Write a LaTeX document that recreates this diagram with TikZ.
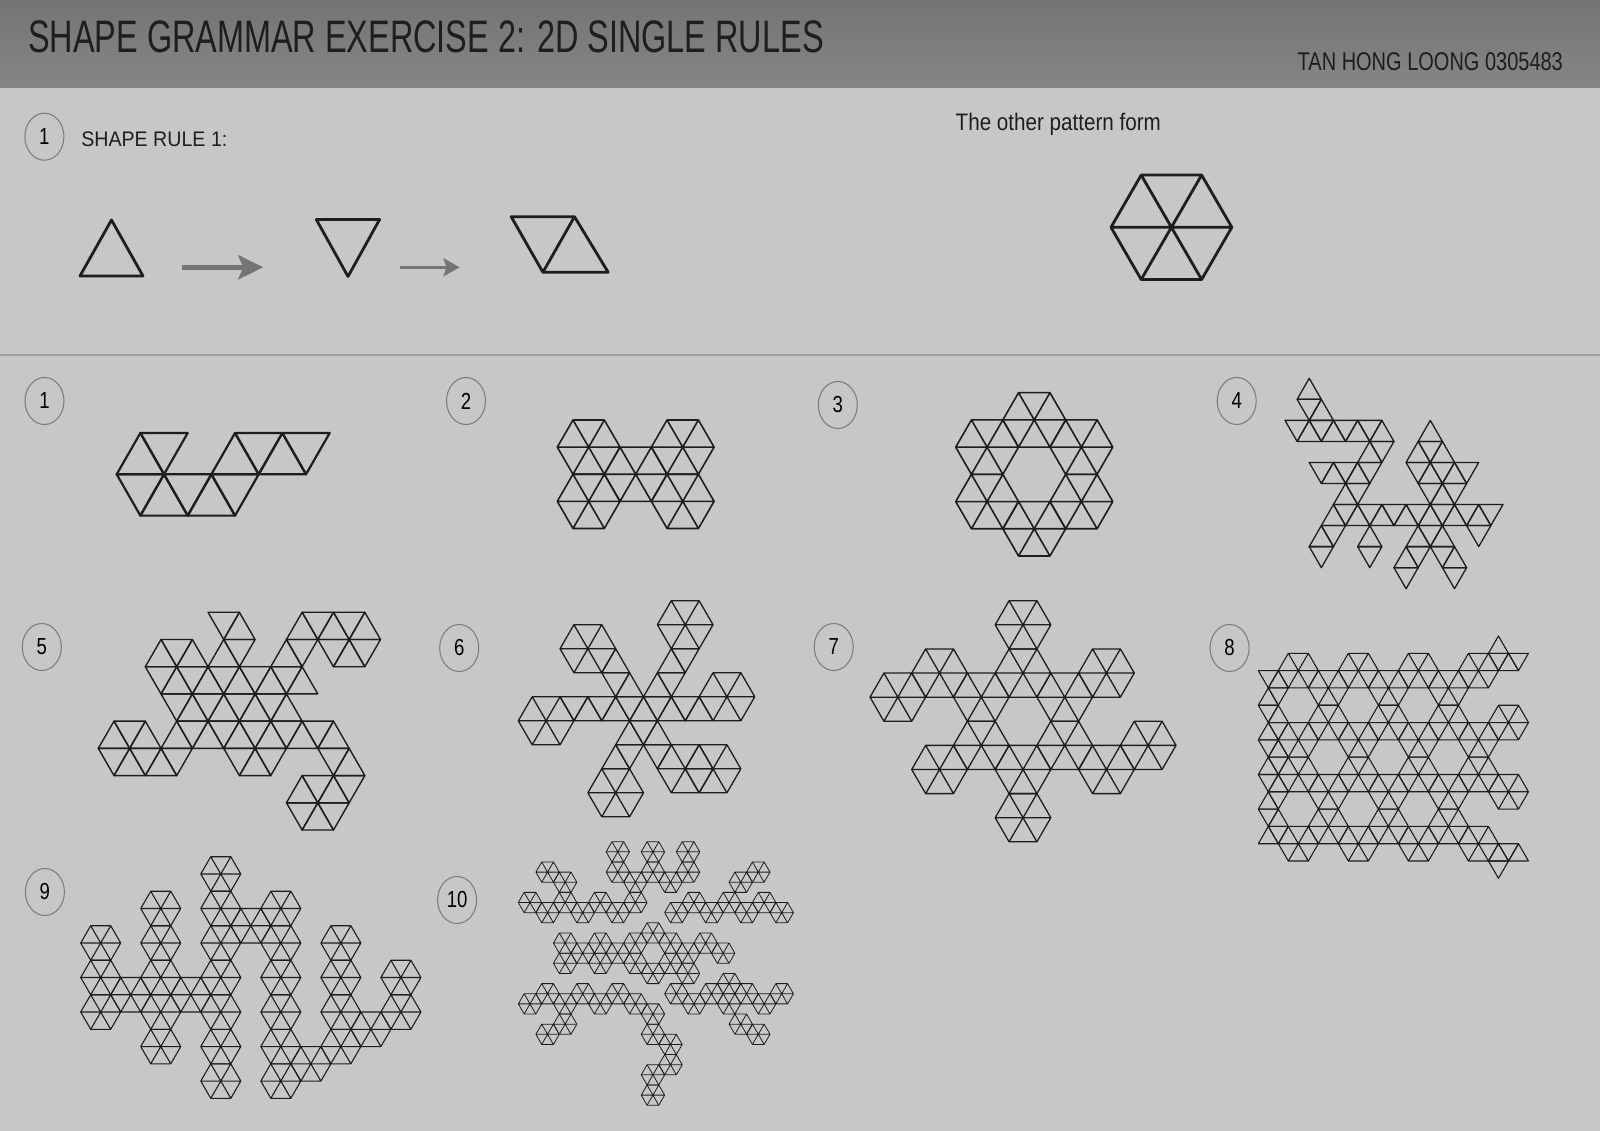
\documentclass[tikz,border=0pt]{standalone}
\usepackage{fontspec}
\setmainfont{Liberation Sans}
\usepackage{graphicx}
\usetikzlibrary{arrows.meta, shapes.geometric}

\definecolor{ink}{HTML}{1E1E1E}
\definecolor{paper}{HTML}{C7C7C7}
\definecolor{bandtop}{HTML}{747474}
\definecolor{bandbot}{HTML}{868686}
\definecolor{rim}{HTML}{7C7C7C}
\definecolor{arrowgray}{HTML}{757575}

% one triangle of the grid: apex up or apex down
\newcommand\triup[2]{\draw (#1,#2) -- ++(1,1) -- ++(-2,0) -- cycle;}
\newcommand\tridn[2]{\draw (#1-1,#2) -- ++(2,0) -- ++(-1,1) -- cycle;}
% six triangles round one grid point
\newcommand\hexa[2]{\draw (#1-2,#2) -- ++(1,-1) -- ++(2,0) -- ++(1,1) -- ++(-1,1) -- ++(-2,0) -- cycle
  (#1-2,#2) -- ++(4,0) (#1-1,#2-1) -- ++(2,2) (#1+1,#2-1) -- ++(-2,2);}
% the same hexagon with its left tip cut off
\newcommand\hexcut[2]{\tridn{#1}{#2-1}\triup{#1+1}{#2-1}\triup{#1}{#2}\tridn{#1+1}{#2}}
\newcommand\cnum[1]{\scalebox{0.8}[1]{#1}}

\begin{document}
\begin{tikzpicture}[
    x=0.01cm, y=-0.01cm,
    numcirc/.style={ellipse, draw=rim, line width=0.3pt, minimum width=0.39cm, minimum height=0.47cm, inner sep=0pt, font=\fontsize{6.6}{7}\selectfont},
    label/.style={anchor=base west, inner sep=0pt, text=ink},
    pat/.style={ink, line width=#1, line join=round},
    lattice/.style n args={4}{shift={(#1,#2)}, x=#3, y=#4},
    rulearrow/.style={arrowgray, line width=#1}
]
\useasboundingbox (0,0) rectangle (1600,1131);

% Background and header band
\fill[paper] (0,0) rectangle (1600,1131);
\fill[top color=bandtop, bottom color=bandbot] (0,0) rectangle (1600,88);
\draw[gray!75, line width=0.7pt] (0,355) -- (1600,355);

% Titles
\node[label, font=\fontsize{12.95}{14}\selectfont] (title) at (27.5,53)
  {\resizebox{7.95cm}{\height}{SHAPE GRAMMAR EXERCISE 2: 2D SINGLE RULES}};
\node[label, font=\fontsize{7.3}{8}\selectfont] (author) at (1297,70.5)
  {\resizebox{2.65cm}{\height}{TAN HONG LOONG 0305483}};
\node[label, font=\fontsize{6}{7}\selectfont] (rulename) at (80.6,146.7)
  {\resizebox{1.46cm}{\height}{SHAPE RULE 1:}};
\node[label, font=\fontsize{6.8}{8}\selectfont] (otherform) at (955,131)
  {\resizebox{2.05cm}{\height}{The other pattern form}};

% Circled numbers
\node[numcirc] (rule1) at (44.4,136.7) {\cnum{1}};
\node[numcirc] (step1) at (44.5,401) {\cnum{1}};
\node[numcirc] (step2) at (466,401) {\cnum{2}};
\node[numcirc] (step3) at (837.8,405) {\cnum{3}};
\node[numcirc] (step4) at (1236.7,401) {\cnum{4}};
\node[numcirc] (step5) at (41.8,647) {\cnum{5}};
\node[numcirc] (step6) at (459.2,648) {\cnum{6}};
\node[numcirc] (step7) at (833.7,647) {\cnum{7}};
\node[numcirc] (step8) at (1229.6,648) {\cnum{8}};
\node[numcirc] (step9) at (44.9,892) {\cnum{9}};
\node[numcirc] (step10) at (457.1,900) {\cnum{10}};

% Shape rule
\draw[pat=0.028cm] (111.5,220) -- (143,276) -- (80,276) -- cycle;
\draw[pat=0.028cm] (316.3,219.5) -- (379.6,219.5) -- (348,276.5) -- cycle;
\draw[pat=0.028cm] (511.2,216.7) -- (574.5,216.7) -- (608.2,272.3) -- (542.9,272.3) -- cycle
  (574.5,216.7) -- (542.9,272.3);
\coordinate (arrow1s) at (181.6,267.3);
\coordinate (arrow1e) at (263.3,267.3);
\coordinate (arrow2s) at (400,267.3);
\coordinate (arrow2e) at (459.5,267.3);
\draw[rulearrow=0.05cm, -{Stealth[length=0.25cm, width=0.24cm, inset=0.05cm]}] (arrow1s) -- (arrow1e);
\draw[rulearrow=0.035cm, -{Stealth[length=0.16cm, width=0.18cm, inset=0.03cm]}] (arrow2s) -- (arrow2e);

% The other pattern form
\begin{scope}[pat=0.028cm, lattice={1171.4}{227.3}{0.302cm}{-0.522cm}]
  \hexa{0}{0}
\end{scope}

% 1
\begin{scope}[pat=0.022cm, lattice={116.7}{433}{0.2365cm}{-0.413cm}]
  \foreach \c/\r in {1/0,5/0,7/0,2/1,4/1} {\triup{\c}{\r}}
  \foreach \c/\r in {2/0,6/0,8/0,1/1,3/1,5/1} {\tridn{\c}{\r}}
\end{scope}

% 2
\begin{scope}[pat=0.016cm, lattice={557.3}{420}{0.1567cm}{-0.271cm}]
  \foreach \c/\r in {2/1,2/3,8/1,8/3,5/2} {\hexa{\c}{\r}}
\end{scope}

% 3
\begin{scope}[pat=0.016cm, lattice={955.7}{392.7}{0.157cm}{-0.272cm}]
  \foreach \c/\r in {5/1,2/2,8/2,2/4,8/4,5/5} {\hexa{\c}{\r}}
\end{scope}

% 4
\begin{scope}[pat=0.013cm, lattice={1285}{378.3}{0.121cm}{-0.2103cm}]
  \foreach \c/\r in {2/0,3/1,2/2,4/2,6/2,8/2,12/2,7/3,11/3,13/3,4/4,6/4,12/4,14/4,5/5,13/5,
      4/6,6/6,8/6,10/6,12/6,14/6,16/6,3/7,7/7,11/7,13/7,10/8,14/8} {\triup{\c}{\r}}
  \foreach \c/\r in {2/1,1/2,3/2,5/2,7/2,8/3,12/3,3/4,5/4,7/4,11/4,13/4,15/4,6/5,12/5,14/5,
      5/6,7/6,9/6,11/6,13/6,15/6,17/6,4/7,12/7,16/7,3/8,7/8,11/8,13/8,10/9,14/9} {\tridn{\c}{\r}}
\end{scope}

% 5
\begin{scope}[pat=0.014cm, lattice={98.3}{612.3}{0.1567cm}{-0.272cm}]
  \foreach \c/\r in {9/0,13/0,15/0,17/0,4/1,6/1,8/1,12/1,16/1,5/2,7/2,9/2,11/2,13/2,
      6/3,8/3,10/3,12/3,1/4,3/4,5/4,7/4,9/4,11/4,13/4,15/4,2/5,4/5,10/5,16/5,13/6,15/6,14/7} {\triup{\c}{\r}}
  \foreach \c/\r in {8/0,14/0,16/0,5/1,9/1,13/1,15/1,17/1,4/2,6/2,8/2,10/2,12/2,
      5/3,7/3,9/3,11/3,2/4,6/4,8/4,10/4,12/4,14/4,1/5,3/5,5/5,9/5,11/5,15/5,14/6,16/6,13/7,15/7} {\tridn{\c}{\r}}
\end{scope}

% 6
\begin{scope}[pat=0.013cm, lattice={518.3}{600.7}{0.139cm}{-0.24cm}]
  \foreach \c/\r in {12/1,5/2,15/4,2/5,12/7,14/7,7/8} {\hexa{\c}{\r}}
  \foreach \c/\r in {11/2,7/2,10/3,8/3,9/4,11/4,13/4,5/4,7/4,8/5,10/5,7/6} {\triup{\c}{\r}}
  \foreach \c/\r in {12/2,11/3,7/3,8/4,10/4,12/4,4/4,6/4,9/5,8/6,10/6} {\tridn{\c}{\r}}
\end{scope}

% 7
\begin{scope}[pat=0.013cm, lattice={870}{600.7}{0.139cm}{-0.241cm}]
  \foreach \c/\r in {11/1,2/4,5/3,8/4,11/3,14/4,17/3,5/7,8/6,11/7,14/6,17/7,20/6,11/9} {\hexa{\c}{\r}}
\end{scope}

% 8
\begin{scope}[pat=0.011cm, lattice={1258.3}{636}{0.1cm}{-0.173cm}]
  \foreach \c in {4,10,16,22} {\foreach \r in {2,6,8,12} {\hexa{\c}{\r}}}
  \foreach \c in {7,13,19} {\foreach \r in {3,5,9,11} {\hexa{\c}{\r}}}
  \foreach \r in {3,5,7,9,11} {\hexcut{1}{\r}}
  \foreach \c/\r in {25/5,25/9} {\hexa{\c}{\r}}
  \foreach \c/\r in {24/0,25/1,24/12,26/12} {\triup{\c}{\r}}
  \foreach \c/\r in {24/1,26/1,25/12,24/13} {\tridn{\c}{\r}}
\end{scope}

% 9
\begin{scope}[pat=0.011cm, lattice={80.7}{856.7}{0.1cm}{-0.1725cm}]
  \foreach \c/\r in {2/5,2/7,2/9,8/3,8/5,8/7,8/9,8/11,14/1,14/3,14/5,14/7,14/9,14/11,14/13,
      20/3,20/5,20/7,20/9,20/11,20/13,26/5,26/7,26/9,26/11,32/7,32/9,5/8,11/8,17/4,23/12,29/10} {\hexa{\c}{\r}}
\end{scope}

% 10
\begin{scope}[pat=0.008cm, lattice={518.3}{841.7}{0.0585cm}{-0.1013cm}]
  \foreach \c/\r in {17/1,23/1,29/1,17/3,23/3,29/3,20/4,26/4,5/3,8/4,2/6,5/7,8/6,11/7,14/6,17/7,20/6,
      27/7,30/6,33/7,36/6,39/7,42/6,45/7,41/3,38/4,8/10,11/11,14/10,17/11,20/10,23/9,26/10,29/11,32/10,35/11,
      8/12,14/12,20/12,23/13,26/12,29/13,2/16,5/15,8/16,11/15,14/16,17/15,20/16,
      27/15,30/16,33/15,36/16,39/15,42/16,45/15,5/19,8/18,36/14,41/19,38/18,
      23/17,23/19,26/20,26/22,23/23,23/25} {\hexa{\c}{\r}}
\end{scope}

\end{tikzpicture}
\end{document}
